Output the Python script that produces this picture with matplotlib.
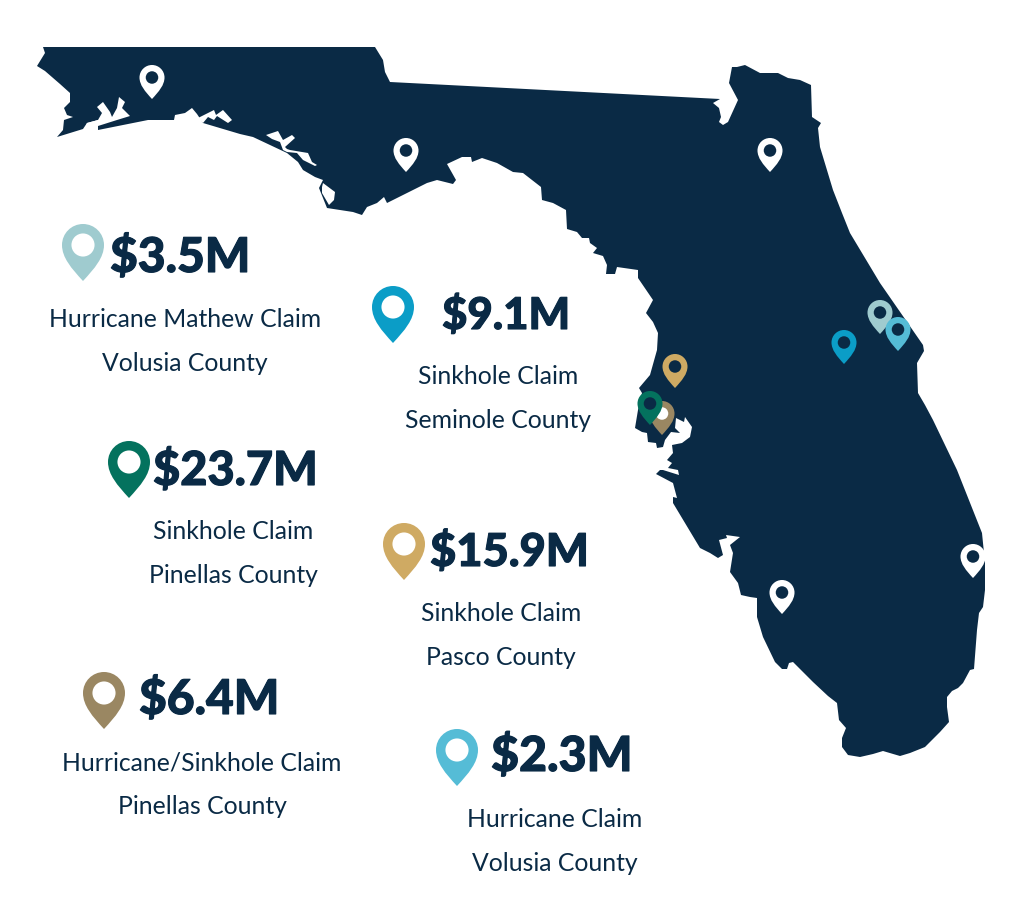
import matplotlib
matplotlib.use("Agg")
import matplotlib.pyplot as plt
import matplotlib.patheffects as pe
from matplotlib.path import Path
from matplotlib.patches import PathPatch, Polygon, Circle

navy = "#0a2a45"

###Outline of the state (pixels)
state_x = [43,375,383,385,390,720,713,719,721,719,723,728,738,729,732,737,745,760,778,788,800,811,812,821,818,820,833,
           842,850,880,923,924,917,918,925,933,957,982,983,985,985,983,979,977,974,970,963,958,952,947,947,949,940,925,
           910,900,883,873,860,848,842,842,846,839,837,828,813,793,789,787,782,775,763,757,757,750,741,738,730,733,730,
           740,726,727,719,723,718,710,700,673,673,677,673,656,660,663,679,678,668,672,667,673,672,682,690,692,685,684,
           676,675,680,671,665,663,657,656,648,647,642,635,638,642,639,650,657,658,653,646,653,638,638,617,615,606,607,
           603,593,597,590,589,582,577,567,566,553,542,541,523,513,497,482,472,471,462,447,456,453,437,427,387,384,377,
           367,362,353,327,319,323,315,303,298,287,253,240,203,197,192,185,175,174,148,98,98,87,83,57,63,64,73,67,64,70,
           70,60,45,37,45,43]
state_y = [47,47,60,72,82,99,103,108,117,122,125,122,100,83,67,67,65,73,73,78,80,85,117,123,128,147,190,
           213,233,283,345,351,363,393,405,420,470,533,543,563,590,607,613,630,669,670,683,688,691,697,707,722,732,747,
           753,756,751,754,757,755,747,738,728,720,703,696,682,662,663,669,669,662,637,617,598,597,595,583,572,553,545,
           537,535,538,540,555,558,553,548,503,497,498,483,474,470,470,475,470,468,463,460,453,445,443,437,427,417,422,
           418,428,433,432,440,447,448,443,442,433,432,428,410,393,388,375,350,333,322,313,300,278,270,267,274,274,265,
           256,253,248,243,238,238,232,229,210,203,200,187,173,172,163,158,162,157,157,164,180,184,180,183,203,197,203,
           207,215,212,208,188,180,177,170,162,153,137,134,123,114,108,113,115,120,120,130,120,123,129,137,130,120,117,
           115,108,102,93,84,71,66,53,47]

###Bays cut out of the panhandle
pensacola_x = [87,98,102,97,103,110,112,117,119,125,122,130,117,98,98,84]
pensacola_y = [123,120,113,107,102,112,117,108,97,102,108,116,120,126,131,131]
choctaw_x = [198,214,216,223,232,228,217,214,208,203]
choctaw_y = [118,110,115,110,120,123,116,120,117,123]
standrew_x = [266,272,278,283,292,295,285,287,290,308,312,317,315,303,297,287,283,280,272]
standrew_y = [135,133,131,140,135,138,147,149,150,153,162,165,166,160,153,152,150,142,139]
apalach_x = [323,335,334,329,322,322]
apalach_y = [183,192,200,205,193,187]

###Pins on the map: x, tip y, colour
map_pin_x = [152,406,770,782,973,675,662,650,880,898,844]
map_pin_tip = [99,172,172,614,578,388,435,425,334,351,364]
map_pin_col = ["white","white","white","white","white","#cfaa63","#9a8762","#04725e","#9fcbcf","#55bcd6","#0b9dc7"]
map_pin_hole = [navy,navy,navy,navy,navy,navy,"white",navy,navy,navy,navy]

###Legend entries
amounts = ["$3.5M","$9.1M","$23.7M","$15.9M","$6.4M","$2.3M"]
amount_x = [110,442,153,430,139,491]
amount_y = [272,329,485,566,714,771]
amount_size = [34.5,31.5,33.8,32.6,34.5,34.8]
big_pin_x = [83,393,129,404,104,457]
big_pin_tip = [281,343,498,580,729,786]
big_pin_col = ["#9fcbcf","#0b9dc7","#04725e","#cfaa63","#9a8762","#55bcd6"]
claims = ["Hurricane Mathew Claim","Sinkhole Claim","Sinkhole Claim","Sinkhole Claim","Hurricane/Sinkhole Claim","Hurricane Claim"]
counties = ["Volusia County","Seminole County","Pinellas County","Pasco County","Pinellas County","Volusia County"]
label_x = [185,498,233,501,202,555]
claim_y = [327,384,539,621,770,827]
county_y = [371,428,583,665,814,871]


def draw_pin(ax, x, tip, w, h, col, hole, hole_size, zorder):
    r = w / 2
    cy = tip - h + r
    k = 0.5523 * r
    verts = [(x, tip), (x - r * 0.55, tip - h * 0.22), (x - r, cy + r * 0.6), (x - r, cy),
             (x - r, cy - k), (x - k, cy - r), (x, cy - r),
             (x + k, cy - r), (x + r, cy - k), (x + r, cy),
             (x + r, cy + r * 0.6), (x + r * 0.55, tip - h * 0.22), (x, tip)]
    codes = [Path.MOVETO] + [Path.CURVE4] * 12
    ax.add_patch(PathPatch(Path(verts, codes), fc=col, ec="none", zorder=zorder))
    ax.add_patch(Circle((x, cy), r * hole_size, fc=hole, ec="none", zorder=zorder))


fig = plt.figure(figsize=(10.24, 9.22), dpi=100)
ax = fig.add_axes([0, 0, 1, 1])
ax.set_xlim(0, 1024)
ax.set_ylim(922, 0)
ax.axis("off")

ax.add_patch(Polygon(list(zip(state_x, state_y)), fc=navy, ec="none", zorder=1))
for bx, by in [(pensacola_x, pensacola_y), (choctaw_x, choctaw_y), (standrew_x, standrew_y), (apalach_x, apalach_y)]:
    ax.add_patch(Polygon(list(zip(bx, by)), fc="white", ec="none", zorder=2))

for i in range(len(map_pin_x)):
    draw_pin(ax, map_pin_x[i], map_pin_tip[i], 25, 34, map_pin_col[i], map_pin_hole[i], 0.5, 3 + i)

for i in range(len(amounts)):
    draw_pin(ax, big_pin_x[i], big_pin_tip[i], 42, 57, big_pin_col[i], "white", 0.55, 3)
    ax.text(amount_x[i], amount_y[i], amounts[i], family="Lato", weight="black", fontsize=amount_size[i],
            color=navy, ha="left", va="baseline",
            path_effects=[pe.withStroke(linewidth=0.8, foreground=navy)])
    ax.text(label_x[i], claim_y[i], claims[i], family="Lato", fontsize=17.8, color=navy, ha="center", va="baseline")
    ax.text(label_x[i], county_y[i], counties[i], family="Lato", fontsize=17.8, color=navy, ha="center", va="baseline")

fig.savefig("out.png", dpi=100, facecolor="white")
